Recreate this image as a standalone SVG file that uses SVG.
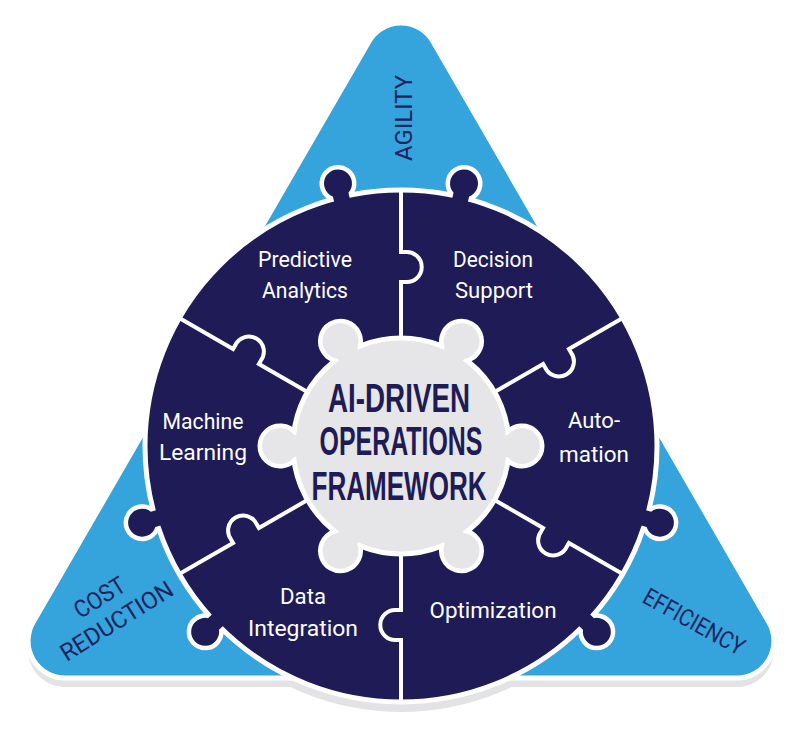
<svg xmlns="http://www.w3.org/2000/svg" xmlns:xlink="http://www.w3.org/1999/xlink" width="800" height="731" viewBox="0 0 800 731">
  <style>
    .navy{fill:#1e1b56}
    .gray{fill:#e6e6e8}
    .seg{fill:#ffffff;font-family:Roboto,"Liberation Sans",sans-serif;font-size:22px;text-anchor:middle}
    .title{fill:#1e1b56;font-family:"Liberation Sans",Arial,sans-serif;font-weight:bold;font-size:40px;text-anchor:middle}
    .side{fill:#1a2460;font-family:Roboto,"Liberation Sans",sans-serif;font-size:24px;text-anchor:middle}
    .div{fill:none;stroke:#ffffff;stroke-width:4}
  </style>
  <defs>
    <path id="tri" d="M369,41.4 A37,37 0 0,1 433,41.4 L769,622.6 A37,37 0 0,1 737,678 L65,678 A37,37 0 0,1 33,622.6 Z"/>
    <path id="oknob" d="M-8,-246 L-8,-258.5 A14,14 0 1,1 8,-258.5 L8,-246 Z"/>
    <path id="iknob" d="M-11,-100 L-11,-106.75 A18,18 0 1,1 11,-106.75 L11,-100 Z"/>
    <path id="divider" d="M0,-108 L0,-164.1 L4,-164.1 A15,15 0 1,0 4,-193.9 L0,-193.9 L0,-256"/>
    <clipPath id="lowclip"><rect x="0" y="600" width="800" height="131"/></clipPath>
  </defs>

  <g id="shadows" fill="#e3e3e5" clip-path="url(#lowclip)">
    <circle cx="401" cy="455" r="257"/>
    <use xlink:href="#tri" transform="translate(0,9)"/>
  </g>

  <g id="triangle">
    <use xlink:href="#tri" fill="#35a4dc" stroke="#ffffff" stroke-width="5"/>
  </g>

  <g id="wheel" transform="translate(401,446)">
    <g id="outer-knob-outlines" class="navy" stroke="#ffffff" stroke-width="9">
      <use xlink:href="#oknob" transform="rotate(-13.5)"/>
      <use xlink:href="#oknob" transform="rotate(13.5)"/>
      <use xlink:href="#oknob" transform="rotate(106.5)"/>
      <use xlink:href="#oknob" transform="rotate(133.5)"/>
      <use xlink:href="#oknob" transform="rotate(226.5)"/>
      <use xlink:href="#oknob" transform="rotate(253.5)"/>
    </g>
    <circle cx="0" cy="0" r="256" class="navy" stroke="#ffffff" stroke-width="5"/>
    <g id="outer-knob-fills" class="navy">
      <use xlink:href="#oknob" transform="rotate(-13.5)"/>
      <use xlink:href="#oknob" transform="rotate(13.5)"/>
      <use xlink:href="#oknob" transform="rotate(106.5)"/>
      <use xlink:href="#oknob" transform="rotate(133.5)"/>
      <use xlink:href="#oknob" transform="rotate(226.5)"/>
      <use xlink:href="#oknob" transform="rotate(253.5)"/>
    </g>
    <g id="connectors" class="div">
      <use xlink:href="#divider" transform="rotate(0)"/>
      <use xlink:href="#divider" transform="rotate(60)"/>
      <use xlink:href="#divider" transform="rotate(120)"/>
      <use xlink:href="#divider" transform="rotate(180)"/>
      <use xlink:href="#divider" transform="rotate(240)"/>
      <use xlink:href="#divider" transform="rotate(300)"/>
    </g>
    <g id="hub" class="gray">
      <g stroke="#ffffff" stroke-width="9">
        <use xlink:href="#iknob" transform="rotate(30)"/>
        <use xlink:href="#iknob" transform="rotate(90)"/>
        <use xlink:href="#iknob" transform="rotate(150)"/>
        <use xlink:href="#iknob" transform="rotate(210)"/>
        <use xlink:href="#iknob" transform="rotate(270)"/>
        <use xlink:href="#iknob" transform="rotate(330)"/>
      </g>
      <circle cx="0" cy="0" r="108" stroke="#ffffff" stroke-width="5"/>
      <use xlink:href="#iknob" transform="rotate(30)"/>
      <use xlink:href="#iknob" transform="rotate(90)"/>
      <use xlink:href="#iknob" transform="rotate(150)"/>
      <use xlink:href="#iknob" transform="rotate(210)"/>
      <use xlink:href="#iknob" transform="rotate(270)"/>
      <use xlink:href="#iknob" transform="rotate(330)"/>
    </g>
  </g>

  <g id="predictive-analytics">
    <text class="seg" x="305" y="267" textLength="94" lengthAdjust="spacingAndGlyphs">Predictive</text>
    <text class="seg" x="305" y="298" textLength="86" lengthAdjust="spacingAndGlyphs">Analytics</text>
  </g>
  <g id="decision-support">
    <text class="seg" x="493" y="267" textLength="80" lengthAdjust="spacingAndGlyphs">Decision</text>
    <text class="seg" x="494" y="298" textLength="78" lengthAdjust="spacingAndGlyphs">Support</text>
  </g>
  <g id="machine-learning">
    <text class="seg" x="203" y="429" textLength="81" lengthAdjust="spacingAndGlyphs">Machine</text>
    <text class="seg" x="203" y="460" textLength="88" lengthAdjust="spacingAndGlyphs">Learning</text>
  </g>
  <g id="automation">
    <text class="seg" x="594" y="428" textLength="52" lengthAdjust="spacingAndGlyphs">Auto-</text>
    <text class="seg" x="594" y="462" textLength="70" lengthAdjust="spacingAndGlyphs">mation</text>
  </g>
  <g id="data-integration">
    <text class="seg" x="303" y="604" textLength="46" lengthAdjust="spacingAndGlyphs">Data</text>
    <text class="seg" x="303" y="636" textLength="110" lengthAdjust="spacingAndGlyphs">Integration</text>
  </g>
  <g id="optimization">
    <text class="seg" x="493" y="618" textLength="127" lengthAdjust="spacingAndGlyphs">Optimization</text>
  </g>
  <g id="center-title">
    <text class="title" x="399" y="412" textLength="142" lengthAdjust="spacingAndGlyphs">AI-DRIVEN</text>
    <text class="title" x="401" y="455" textLength="163" lengthAdjust="spacingAndGlyphs">OPERATIONS</text>
    <text class="title" x="399" y="500" textLength="175" lengthAdjust="spacingAndGlyphs">FRAMEWORK</text>
  </g>
  <g id="agility">
    <text class="side" transform="translate(412,118) rotate(-90)" x="0" y="0" textLength="86" lengthAdjust="spacingAndGlyphs">AGILITY</text>
  </g>
  <g id="cost-reduction" transform="translate(121,628) rotate(-32)">
    <text class="side" x="-2" y="-29" textLength="56" lengthAdjust="spacingAndGlyphs">COST</text>
    <text class="side" x="0" y="0" textLength="128" lengthAdjust="spacingAndGlyphs">REDUCTION</text>
  </g>
  <g id="efficiency">
    <text class="side" transform="translate(690,629) rotate(29)" x="0" y="0" textLength="112" lengthAdjust="spacingAndGlyphs">EFFICIENCY</text>
  </g>
</svg>
